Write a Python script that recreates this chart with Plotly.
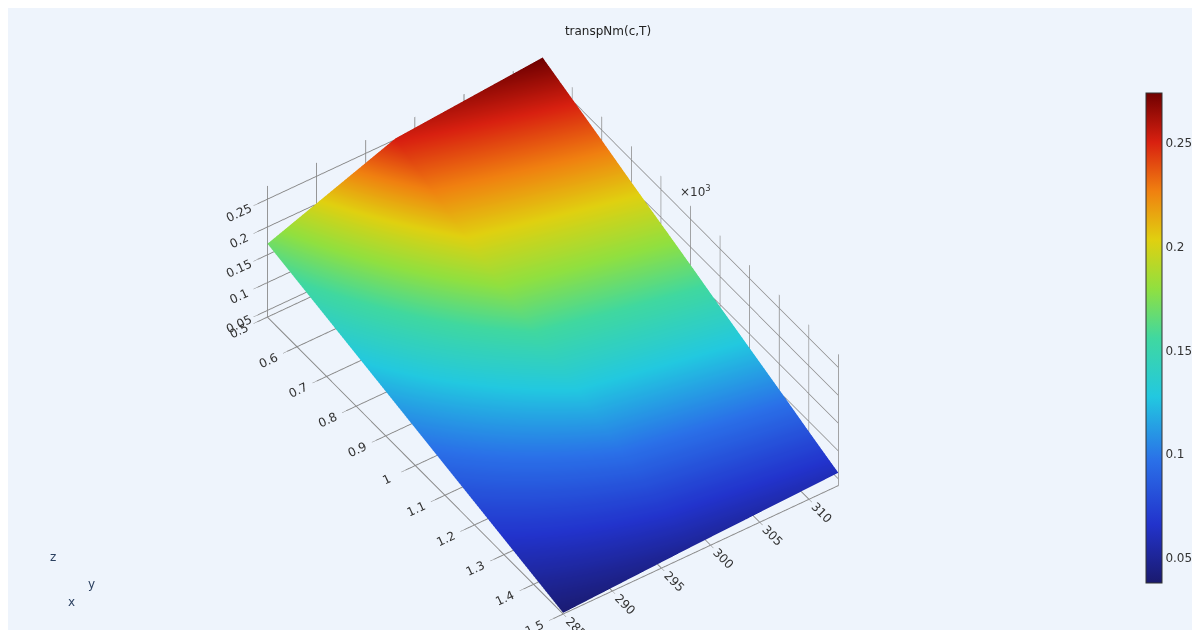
import plotly.graph_objects as go

# c (mol/m^3) and T (K) grid, transpNm values
c_vals = [500, 600, 700, 800, 900, 1000, 1100, 1200, 1300, 1400, 1500]
T_vals = [285, 298, 313]
z_T285 = [0.170, 0.157, 0.144, 0.131, 0.118, 0.105, 0.092, 0.079, 0.066, 0.053, 0.040]
z_T298 = [0.252, 0.232, 0.212, 0.192, 0.172, 0.151, 0.131, 0.111, 0.091, 0.071, 0.051]
z_T313 = [0.274, 0.253, 0.232, 0.210, 0.189, 0.168, 0.146, 0.125, 0.104, 0.082, 0.061]

x_ticks = [500, 600, 700, 800, 900, 1000, 1100, 1200, 1300, 1400, 1500]
x_ticktext = ["0.5", "0.6", "0.7", "0.8", "0.9", "1", "1.1", "1.2", "1.3", "1.4", "1.5"]
y_ticks = [285, 290, 295, 300, 305, 310]
z_ticks = [0.05, 0.1, 0.15, 0.2, 0.25]

# z[i][j] -> y = T_vals[i], x = c_vals[j]
z = [z_T285, z_T298, z_T313]

rainbow = [
    [0.0, "#1a1a6e"], [0.12, "#2233cc"], [0.25, "#2a70e8"], [0.38, "#22c8e0"],
    [0.5, "#40d8a0"], [0.6, "#90e040"], [0.7, "#e0d010"], [0.8, "#f08010"],
    [0.9, "#d82010"], [1.0, "#700000"],
]

fig = go.Figure(go.Surface(
    x=c_vals, y=T_vals, z=z,
    colorscale=rainbow, cmin=0.038, cmax=0.274,
    showscale=True,
    lighting=dict(ambient=0.85, diffuse=0.35, specular=0.05),
    colorbar=dict(tickvals=z_ticks, len=0.85, thickness=16, x=0.94,
                  outlinecolor="#333", outlinewidth=1,
                  tickfont=dict(size=12, color="#333")),
))

axis_common = dict(showbackground=False, gridcolor="#888", showline=False,
                   zeroline=False, title=dict(text=""),
                   tickfont=dict(size=12, color="#333"), ticks="outside",
                   tickcolor="#888", showspikes=False)

fig.update_layout(
    width=1200, height=630,
    paper_bgcolor="#eef4fc",
    font=dict(family="DejaVu Sans"),
    title=dict(text="transpNm(c,T)", x=0.5, y=0.97, font=dict(size=12, color="#222")),
    margin=dict(l=0, r=0, t=30, b=0),
    scene=dict(
        xaxis=dict(axis_common, range=[500, 1500], tickvals=x_ticks, ticktext=x_ticktext),
        yaxis=dict(axis_common, range=[284, 313], tickvals=y_ticks),
        zaxis=dict(axis_common, range=[0.038, 0.274], tickvals=z_ticks),
        aspectmode="manual", aspectratio=dict(x=1.75, y=1.15, z=0.6),
        camera=dict(eye=dict(x=1.32, y=-0.9, z=1.5), up=dict(x=0, y=0, z=1),
                    center=dict(x=0, y=0, z=0),
                    projection=dict(type="orthographic")),
        domain=dict(x=[0.0, 0.9], y=[0, 1]),
        annotations=[dict(x=950, y=313, z=0.274, text="×10<sup>3</sup>", showarrow=False,
                          xshift=20, font=dict(size=12, color="#333"))],
    ),
    annotations=[
        dict(x=0.033, y=0.12, xref="paper", yref="paper", text="z", showarrow=False, font=dict(size=12)),
        dict(x=0.065, y=0.075, xref="paper", yref="paper", text="y", showarrow=False, font=dict(size=12)),
        dict(x=0.048, y=0.045, xref="paper", yref="paper", text="x", showarrow=False, font=dict(size=12)),
    ],
)

fig.write_html("out.html")
